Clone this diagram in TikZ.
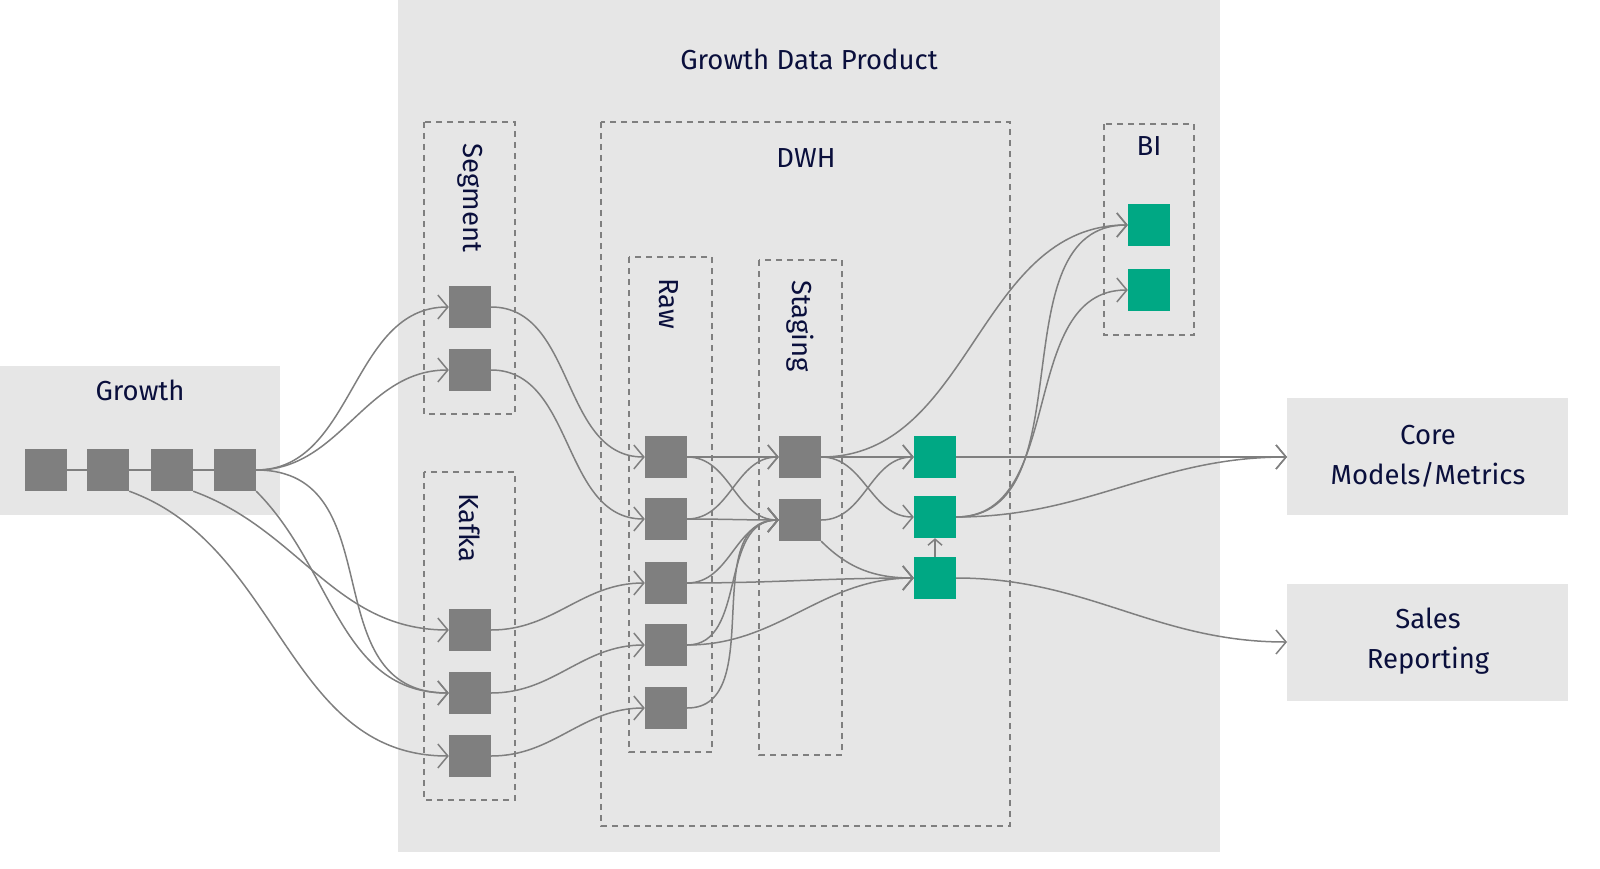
\documentclass[tikz,border=0pt]{standalone}
\usepackage{fontspec}
\setmainfont{Fira Sans}
\usetikzlibrary{arrows.meta}
\definecolor{bg}{HTML}{E6E6E6}
\definecolor{sq}{HTML}{7F7F7F}
\definecolor{gr}{HTML}{00A884}
\definecolor{tx}{HTML}{0A0F3C}
\begin{document}
\begin{tikzpicture}[x=1pt,y=-1pt,
  box/.style={fill=bg,draw=none},
  dbox/.style={draw=sq,line width=1.3pt,dash pattern=on 6pt off 5pt},
  s/.style={fill=sq,minimum size=42pt,inner sep=0,draw=none},
  g/.style={fill=gr,minimum size=42pt,inner sep=0,draw=none},
  lab/.style={text=tx,font=\fontsize{27.5}{40}\selectfont},
  c/.style={draw=sq,line width=1.5pt,out=0,in=180},
  a/.style={c,-{Straight Barb[length=10pt,width=24pt,line width=1.5pt]}}]
\useasboundingbox (0,0) rectangle (1600,869);
\fill[box] (0,366) rectangle (280,515);
\fill[box] (398,0) rectangle (1220,852);
\fill[box] (1287,398) rectangle (1568,515);
\fill[box] (1287,584) rectangle (1568,701);
\draw[dbox] (424,122) rectangle (515,414);
\draw[dbox] (424,472) rectangle (515,800);
\draw[dbox] (601,122) rectangle (1010,826);
\draw[dbox] (629,257) rectangle (712,752);
\draw[dbox] (759,260) rectangle (842,755);
\draw[dbox] (1104,124) rectangle (1194,335);
\node[lab] (tg) at (140,390) {Growth};
\node[lab] (tp) at (809,59) {Growth Data Product};
\node[lab] (td) at (806,158) {DWH};
\node[lab] (tb) at (1149,146) {BI};
\node[lab,rotate=-90] (tseg) at (470,198) {Segment};
\node[lab,rotate=-90] (tk) at (470,528) {Kafka};
\node[lab,rotate=-90] (tr) at (669,304) {Raw};
\node[lab,rotate=-90] (ts) at (800,326) {Staging};
\node[lab,align=center] (core) at (1428,456) {Core\\Models/Metrics};
\node[lab,align=center] (sales) at (1428,641) {Sales\\Reporting};
\coordinate (coreIn) at (1287,457);
\coordinate (salesIn) at (1287,642);
\node[s] (g1) at (46,470) {};
\node[s] (g2) at (108,470) {};
\node[s] (g3) at (172,470) {};
\node[s] (g4) at (235,470) {};
\node[s] (s1) at (470,307) {};
\node[s] (s2) at (470,370) {};
\node[s] (k1) at (470,630) {};
\node[s] (k2) at (470,693) {};
\node[s] (k3) at (470,756) {};
\node[s] (r1) at (666,457) {};
\node[s] (r2) at (666,519) {};
\node[s] (r3) at (666,583) {};
\node[s] (r4) at (666,645) {};
\node[s] (r5) at (666,708) {};
\node[s] (t1) at (800,457) {};
\node[s] (t2) at (800,520) {};
\node[g] (c1) at (935,457) {};
\node[g] (c2) at (935,517) {};
\node[g] (c3) at (935,578) {};
\node[g] (b1) at (1149,225) {};
\node[g] (b2) at (1149,290) {};
% growth chain
\draw[c] (g1) -- (g2); \draw[c] (g2) -- (g3); \draw[c] (g3) -- (g4);
\draw[a] (g4.east) to (s1.west);
\draw[a] (g4.east) to (s2.west);
\draw[a,out=0,in=180,looseness=1.2] (g4.east) to (k2.west);
\draw[a,out=-45,in=180] (g4.south east) to (k2.west);
\draw[a,out=-20,in=180] (g3.south east) to (k1.west);
\draw[a,out=-20,in=180] (g2.south east) to (k3.west);
% to raw
\draw[a] (s1.east) to (r1.west);
\draw[a] (s2.east) to (r2.west);
\draw[a] (k1.east) to (r3.west);
\draw[a] (k2.east) to (r4.west);
\draw[a] (k3.east) to (r5.west);
% raw to staging
\draw[a] (r1.east) to (t1.west);
\draw[a] (r1.east) to (t2.west);
\draw[a] (r2.east) to (t1.west);
\draw[a] (r2.east) to (t2.west);
\draw[a] (r3.east) to (t2.west);
\draw[a] (r4.east) to (t2.west);
\draw[a] (r5.east) to (t2.west);
\draw[a] (r3.east) to (c3.west);
\draw[a] (r4.east) to (c3.west);
% staging to out
\draw[a] (t1.east) to (c1.west);
\draw[a] (t1.east) to (c2.west);
\draw[a] (t2.east) to (c1.west);
\draw[a,out=-45] (t2.south east) to (c3.west);
\draw[a] (t1.east) to (b1.west);
\draw[a,out=90,in=-90,-{Straight Barb[length=6pt,width=14pt,line width=1.5pt]}] (c3.north) to (c2.south);
% green out
\draw[a] (c1.east) to (coreIn);
\draw[a] (c2.east) to (coreIn);
\draw[a] (c2.east) to (b1.west);
\draw[a] (c2.east) to (b2.west);
\draw[a] (c3.east) to (salesIn);
\end{tikzpicture}
\end{document}
